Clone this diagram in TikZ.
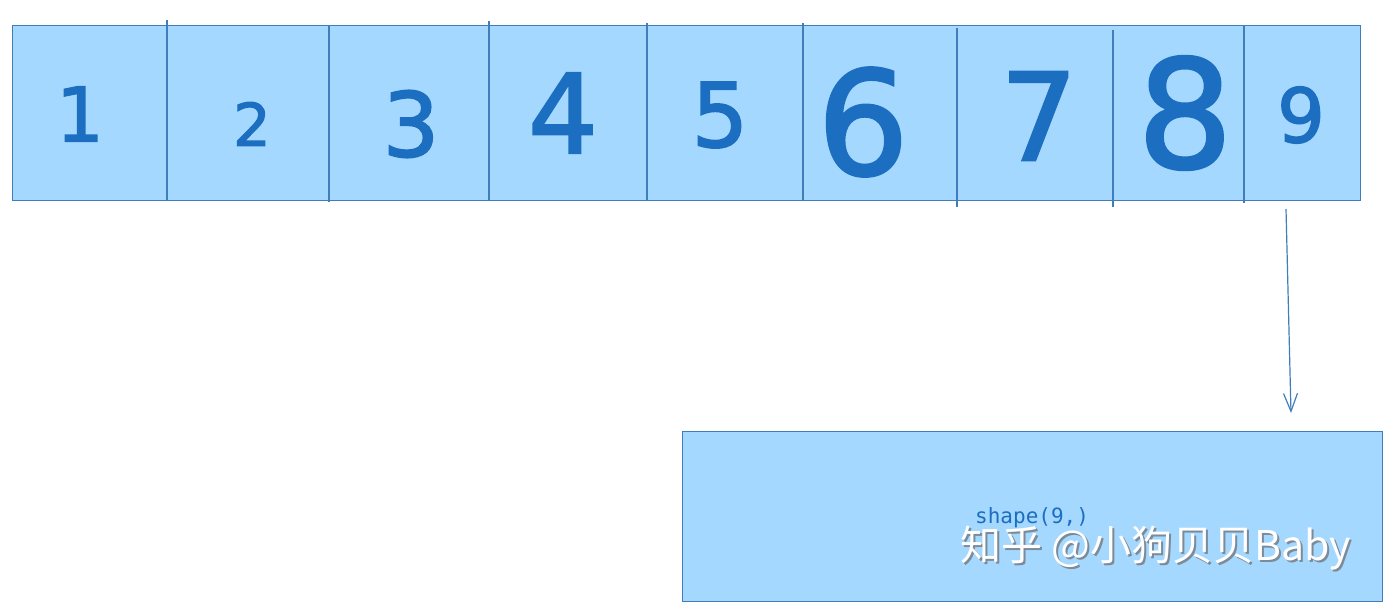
\documentclass[tikz,border=0pt]{standalone}
\usepackage{fontspec}
\setmainfont{DejaVu Sans}
\setmonofont{DejaVu Sans Mono}
\newfontfamily\digitfont{DejaVu Sans}[FakeBold=2]
\newfontfamily\cjkfont{Noto Sans CJK SC}
\usetikzlibrary{arrows.meta}
\definecolor{cellfill}{HTML}{A5D8FF}
\definecolor{cellline}{HTML}{3F7DBB}
\definecolor{digitblue}{HTML}{1C6EC1}
\definecolor{shadowgray}{HTML}{7D8A98}
\tikzset{
  boxstyle/.style={fill=cellfill, draw=cellline, line width=1.2pt},
  divider/.style={draw=cellline, line width=1.2pt},
  digit/.style={text=digitblue, inner sep=0pt, anchor=center, font=\digitfont},
  conn/.style={draw=cellline, line width=1.2pt, -{Straight Barb[length=18pt,width=14pt,line width=1.2pt]}},
}
\newcommand{\dg}[1]{\fontsize{#1}{#1}\selectfont}
\begin{document}
\begin{tikzpicture}[x=1pt,y=-1pt]
\useasboundingbox (0,0) rectangle (1389,609);
% top strip
\node[boxstyle, minimum width=1348pt, minimum height=175pt, inner sep=0pt, anchor=north west] (strip) at (12,25) {};
\draw[divider] (167,20) -- (167,200);
\draw[divider] (329,25) -- (329,202);
\draw[divider] (489,21) -- (489,200);
\draw[divider] (647,23) -- (647,200);
\draw[divider] (803,23) -- (803,200);
\draw[divider] (957,28) -- (957,207);
\draw[divider] (1113,30) -- (1113,207);
\draw[divider] (1244,25) -- (1244,203);
% digits
\node[digit] (d1) at (80,114) {\dg{75}1};
\node[digit] (d2) at (252,124) {\dg{59}2};
\node[digit] (d3) at (411,124) {\dg{89}3};
\node[digit] (d4) at (563,113) {\dg{110}4};
\node[digit] (d5) at (720,115) {\dg{89}5};
\node[digit] (d6) at (863,122) {\dg{144}6};
\node[digit] (d7) at (1039,116) {\dg{121}7};
\node[digit] (d8) at (1185,113) {\dg{150}8};
\node[digit] (d9) at (1301,115) {\dg{75}9};
% bottom box
\node[boxstyle, minimum width=700pt, minimum height=170pt, inner sep=0pt, anchor=north west] (result) at (682,431) {};
\node[text=digitblue, inner sep=0pt, anchor=base west] (shape) at (975,523) {\ttfamily\fontsize{21}{21}\selectfont shape(9,)};
% arrow
\coordinate (a0) at (1286,209);
\coordinate (a1) at (1291,413);
\draw[conn] (a0) -- (a1);
% watermark
\node[text=shadowgray, inner sep=0pt, anchor=base west] (wmshadow) at (962.5,562.5) {\cjkfont\fontsize{41}{41}\selectfont 知乎 @小狗贝贝Baby};
\node[text=white, inner sep=0pt, anchor=base west] (wm) at (960,560) {\cjkfont\fontsize{41}{41}\selectfont 知乎 @小狗贝贝Baby};
\end{tikzpicture}
\end{document}
